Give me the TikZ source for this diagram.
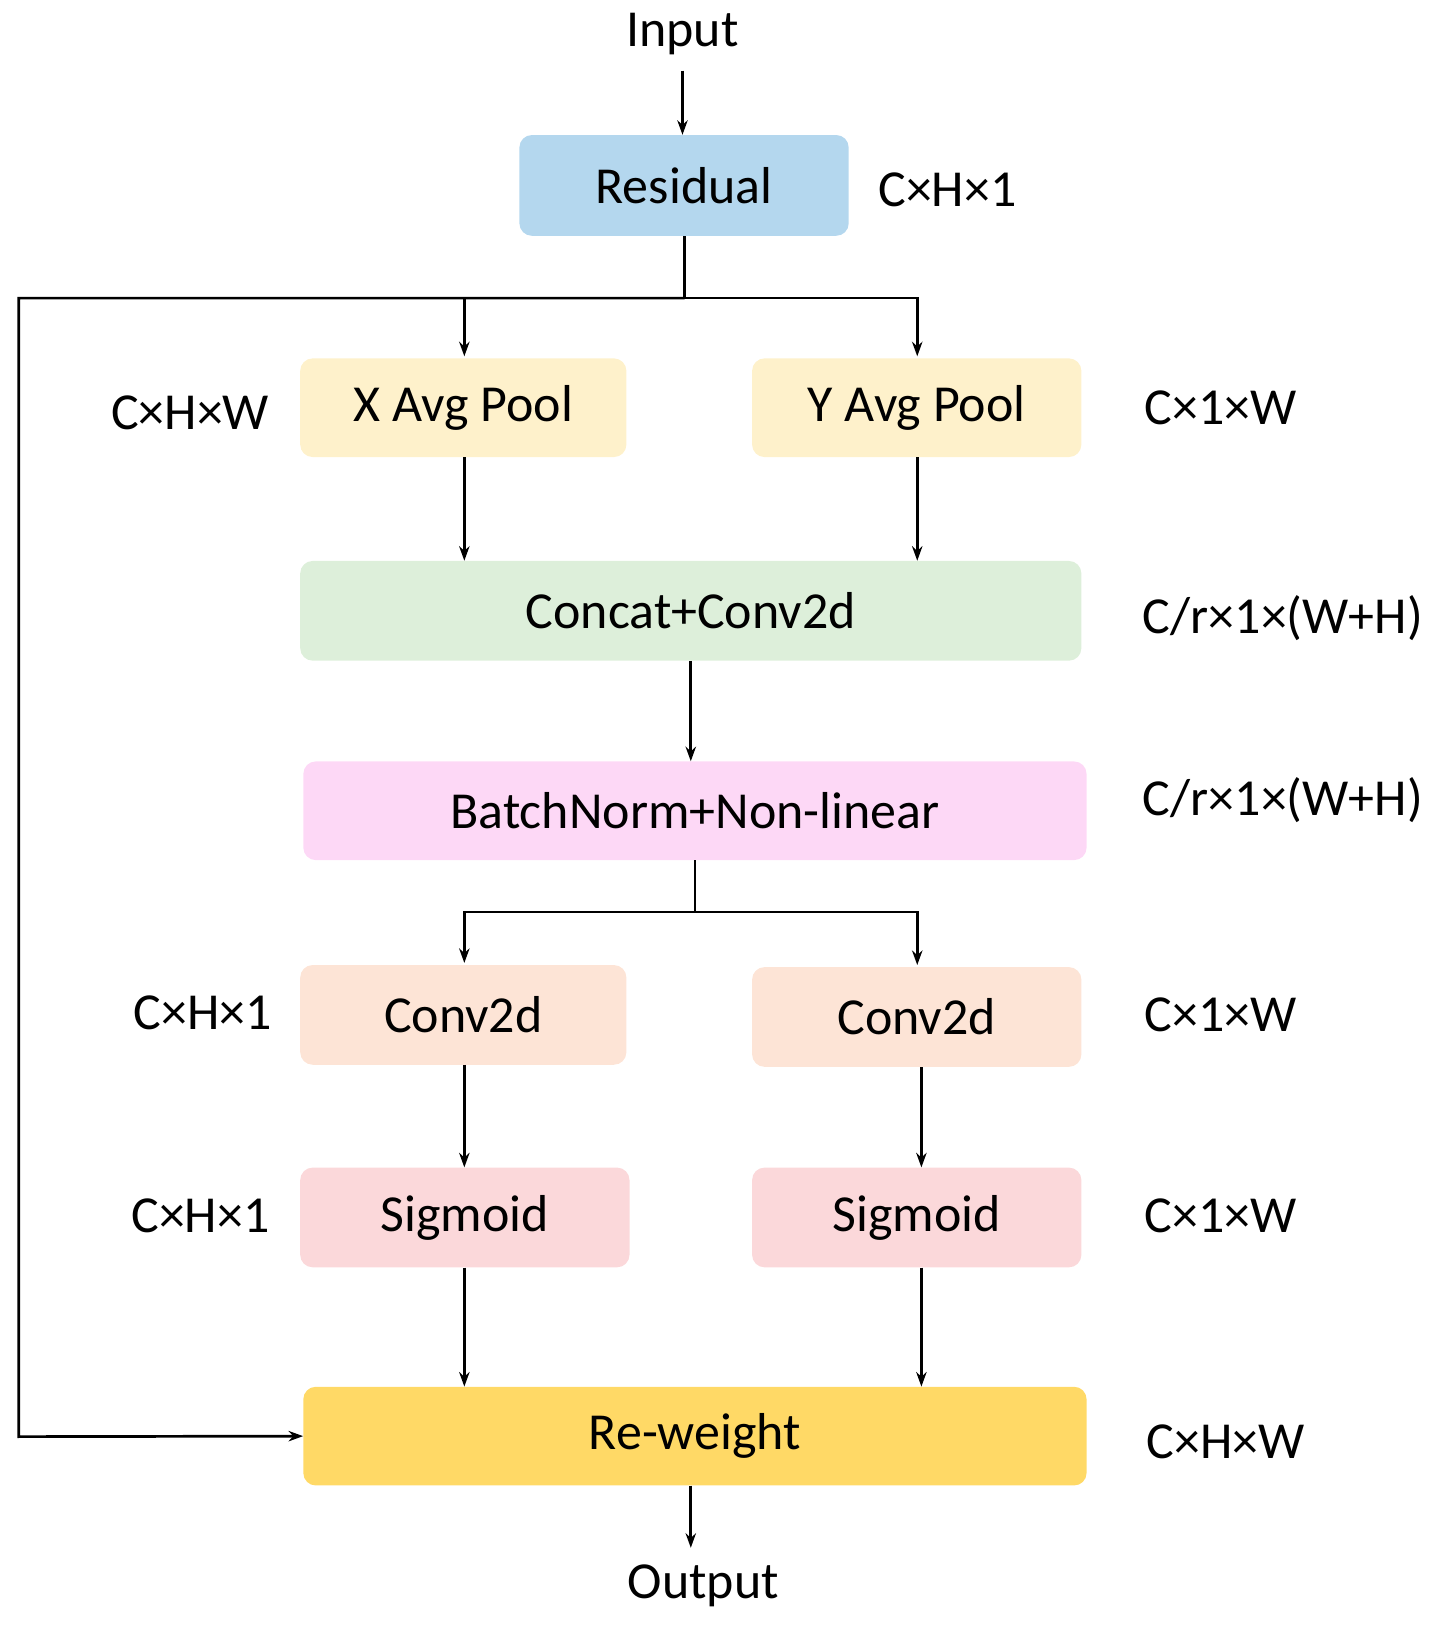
\documentclass[tikz,border=0pt]{standalone}
\usepackage{fontspec}
\setmainfont{Carlito}
\usetikzlibrary{arrows.meta}
\definecolor{cres}{HTML}{B4D7EE}
\definecolor{cpool}{HTML}{FEF1CB}
\definecolor{ccat}{HTML}{DDEFDA}
\definecolor{cbn}{HTML}{FDD8F6}
\definecolor{cconv}{HTML}{FDE4D6}
\definecolor{csig}{HTML}{FBD8DA}
\definecolor{crw}{HTML}{FFD966}
\begin{document}
\begin{tikzpicture}[x=1pt,y=-1pt,
  box/.style={rounded corners=12pt,inner sep=0pt,font=\fontsize{50}{60}\selectfont},
  lab/.style={inner sep=0pt,font=\fontsize{50}{60}\selectfont},
  arr/.style={-{Stealth[length=14pt,width=10pt]},line width=2.6pt},
  ln/.style={line width=2.6pt}]
\useasboundingbox (0,0) rectangle (1390,1573);
\node[lab] (in) at (657,33) {Input};
\node[box,fill=cres,minimum width=317pt,minimum height=97pt] (res) at (658.5,178.5) {Residual};
\node[lab] at (912,183) {C×H×1};
\node[box,fill=cpool,minimum width=314pt,minimum height=95pt] (xp) at (446,392.5) {X Avg Pool};
\node[box,fill=cpool,minimum width=317pt,minimum height=95pt] (yp) at (882.5,392.5) {Y Avg Pool};
\node[lab] at (183,397) {C×H×W};
\node[lab] at (1175,393) {C×1×W};
\node[box,fill=ccat,minimum width=752pt,minimum height=96pt] (cat) at (665,588) {Concat+Conv2d};
\node[lab] at (1235,595) {C/r×1×(W+H)};
\node[box,fill=cbn,minimum width=754pt,minimum height=95pt] (bn) at (669,780.5) {BatchNorm+Non-linear};
\node[lab] at (1235,770) {C/r×1×(W+H)};
\node[box,fill=cconv,minimum width=314pt,minimum height=96pt] (c1) at (446,977) {Conv2d};
\node[box,fill=cconv,minimum width=317pt,minimum height=96pt] (c2) at (882.5,979) {Conv2d};
\node[lab] at (195,975) {C×H×1};
\node[lab] at (1175,977) {C×1×W};
\node[box,fill=csig,minimum width=317pt,minimum height=96pt] (s1) at (447.5,1172) {Sigmoid};
\node[box,fill=csig,minimum width=317pt,minimum height=96pt] (s2) at (882.5,1172) {Sigmoid};
\node[lab] at (193,1170) {C×H×1};
\node[lab] at (1175,1170) {C×1×W};
\node[box,fill=crw,minimum width=754pt,minimum height=95pt] (rw) at (669,1382.5) {Re-weight};
\node[lab] at (1180,1388) {C×H×W};
\node[lab] (out) at (677,1527) {Output};
\coordinate (j1) at (659,287);
\coordinate (j2) at (669,878);
\draw[arr] (657,68) -- (res.north -| 657,0);
\draw[ln] (res.south -| j1) -- (j1);
\draw[arr] (j1) -| (447,343);
\draw[arr] (j1) -| (883,343);
\draw[arr] (j1) -| (18,1383) -- (rw.west);
\draw[arr] (xp.south -| 447,0) -- (cat.north -| 447,0);
\draw[arr] (yp.south -| 883,0) -- (cat.north -| 883,0);
\draw[arr] (cat.south -| 665,0) -- (bn.north -| 665,0);
\draw[ln] (bn.south -| j2) -- (j2);
\draw[arr] (j2) -| (447,927);
\draw[arr] (j2) -| (883,929);
\draw[arr] (c1.south -| 447,0) -- (s1.north -| 447,0);
\draw[arr] (c2.south -| 887,0) -- (s2.north -| 887,0);
\draw[arr] (s1.south -| 447,0) -- (rw.north -| 447,0);
\draw[arr] (s2.south -| 887,0) -- (rw.north -| 887,0);
\draw[arr] (rw.south -| 665,0) -- (665,1490);
\end{tikzpicture}
\end{document}
